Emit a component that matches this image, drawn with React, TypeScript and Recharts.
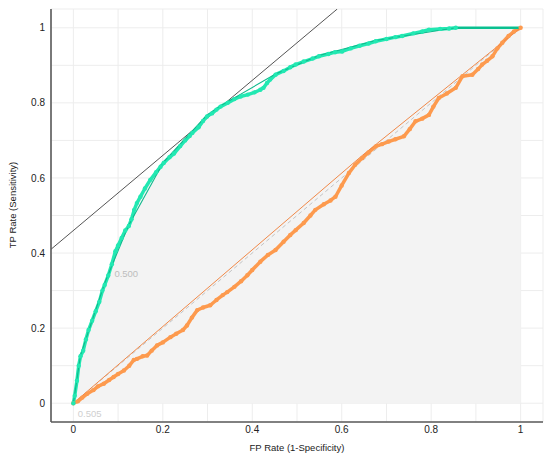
import React from 'react';
import {
  ComposedChart,
  Line,
  Area,
  XAxis,
  YAxis,
  CartesianGrid,
  ReferenceDot,
} from 'recharts';

// ROC curve of the better model (FP rate, TP rate)
const greenFpr = [
  0, 0.003, 0.008, 0.012, 0.016, 0.022, 0.028, 0.034, 0.042, 0.05, 0.058, 0.065, 0.07, 0.078, 0.086,
  0.094, 0.1, 0.108, 0.116, 0.124, 0.13, 0.136, 0.142, 0.15, 0.16, 0.172, 0.185, 0.195, 0.202, 0.215,
  0.225, 0.239, 0.25, 0.26, 0.266, 0.28, 0.29, 0.299, 0.31, 0.32, 0.329, 0.345, 0.36, 0.374, 0.39,
  0.405, 0.418, 0.425, 0.433, 0.44, 0.452, 0.47, 0.485, 0.497, 0.515, 0.535, 0.549, 0.57, 0.585, 0.601,
  0.62, 0.64, 0.66, 0.676, 0.7, 0.72, 0.735, 0.76, 0.78, 0.795, 0.82, 0.84, 0.855, 1,
];
const greenTpr = [
  0, 0.02, 0.06, 0.1, 0.125, 0.14, 0.17, 0.195, 0.22, 0.245, 0.27, 0.3, 0.315, 0.34, 0.37,
  0.405, 0.42, 0.44, 0.46, 0.472, 0.49, 0.515, 0.533, 0.55, 0.572, 0.595, 0.615, 0.63, 0.64, 0.655,
  0.665, 0.685, 0.7, 0.712, 0.72, 0.735, 0.752, 0.764, 0.772, 0.782, 0.79, 0.8, 0.81, 0.817, 0.822,
  0.828, 0.835, 0.84, 0.853, 0.862, 0.875, 0.885, 0.895, 0.902, 0.91, 0.918, 0.924, 0.93, 0.935, 0.937,
  0.945, 0.952, 0.958, 0.964, 0.97, 0.975, 0.978, 0.985, 0.99, 0.995, 0.997, 0.998, 1, 1,
];

// convex hull of the green curve
const greenHullFpr = [0, 0.016, 0.07, 0.124, 0.202, 0.299, 0.329, 0.452, 0.549, 0.676, 0.855, 1];
const greenHullTpr = [0, 0.128, 0.32, 0.475, 0.643, 0.768, 0.792, 0.877, 0.926, 0.966, 1, 1];

// ROC curve of the weaker model
const orangeFpr = [
  0, 0.01, 0.02, 0.031, 0.045, 0.055, 0.068, 0.08, 0.09, 0.1, 0.113, 0.125, 0.135, 0.142, 0.155,
  0.165, 0.175, 0.187, 0.2, 0.217, 0.23, 0.245, 0.254, 0.265, 0.277, 0.29, 0.306, 0.32, 0.334, 0.344,
  0.36, 0.375, 0.389, 0.4, 0.418, 0.435, 0.452, 0.47, 0.485, 0.497, 0.515, 0.53, 0.541, 0.56, 0.575,
  0.586, 0.6, 0.616, 0.63, 0.646, 0.66, 0.676, 0.69, 0.705, 0.72, 0.739, 0.752, 0.765, 0.78, 0.795,
  0.805, 0.817, 0.835, 0.855, 0.87, 0.892, 0.905, 0.914, 0.925, 0.937, 0.948, 0.959, 0.973, 0.985, 1,
];
const orangeTpr = [
  0, 0.005, 0.015, 0.025, 0.035, 0.045, 0.052, 0.062, 0.07, 0.078, 0.087, 0.1, 0.115, 0.118, 0.125,
  0.127, 0.14, 0.154, 0.162, 0.176, 0.185, 0.195, 0.207, 0.228, 0.248, 0.255, 0.261, 0.275, 0.288, 0.296,
  0.31, 0.325, 0.341, 0.355, 0.377, 0.395, 0.408, 0.43, 0.448, 0.461, 0.48, 0.5, 0.515, 0.53, 0.54,
  0.55, 0.58, 0.613, 0.635, 0.653, 0.668, 0.684, 0.69, 0.697, 0.703, 0.711, 0.73, 0.751, 0.758, 0.768,
  0.79, 0.813, 0.825, 0.84, 0.871, 0.875, 0.89, 0.902, 0.912, 0.924, 0.945, 0.96, 0.978, 0.99, 1,
];

const orangeHullFpr = [0, 0.646, 1];
const orangeHullTpr = [0, 0.66, 1];

const diagonalFpr = [0, 1];
const diagonalTpr = [0, 1];

// iso-performance line (slope 1)
const isoFpr = [-0.05, 0.59];
const isoTpr = [0.41, 1.05];

const gridTicks = [0, 0.1, 0.2, 0.3, 0.4, 0.5, 0.6, 0.7, 0.8, 0.9, 1];

const zip = (xs: number[], ys: number[]) => xs.map((x, i) => ({ x, y: ys[i] }));

const greenData = zip(greenFpr, greenTpr);
const greenCurve = greenData.slice(0, greenData.length - 1);
const greenTail = greenData.slice(greenData.length - 2);
const greenHull = zip(greenHullFpr, greenHullTpr);
const orangeData = zip(orangeFpr, orangeTpr);
const orangeHull = zip(orangeHullFpr, orangeHullTpr);
const diagonal = zip(diagonalFpr, diagonalTpr);
const isoLine = zip(isoFpr, isoTpr);

const FONT = "'Liberation Sans', Arial, sans-serif";
const GREEN = '#22e8b2';
const ORANGE = '#fd9a4e';

const fmtTick = (v: number) => {
  const k = Math.round(v * 10);
  if (k % 2 !== 0) return '';
  if (k === 0) return '0';
  if (k === 10) return '1';
  return String(k / 10);
};

const App = () => {
  return (
    <div style={{ position: 'absolute', left: 0, top: 0, width: 550, height: 458, background: '#fff' }}>
      <ComposedChart
        width={550}
        height={458}
        margin={{ top: 9, right: 7, left: 0, bottom: 0 }}
        style={{ fontFamily: FONT }}
      >
        <CartesianGrid stroke="#ededed" strokeWidth={1} />
        <XAxis
          dataKey="x"
          type="number"
          domain={[-0.05, 1.05]}
          ticks={gridTicks}
          tickFormatter={fmtTick}
          allowDataOverflow
          height={36}
          tickLine={false}
          tickSize={0}
          tickMargin={4}
          axisLine={{ stroke: '#5a5a5a', strokeWidth: 1.6 }}
          tick={{ fill: '#222', fontSize: 10, fontFamily: FONT }}
          label={{
            value: 'FP Rate (1-Specificity)',
            position: 'insideBottom',
            offset: 7,
            fill: '#222',
            fontSize: 9.5,
            fontFamily: FONT,
          }}
        />
        <YAxis
          dataKey="y"
          type="number"
          domain={[-0.05, 1.05]}
          ticks={gridTicks}
          tickFormatter={fmtTick}
          allowDataOverflow
          width={51}
          tickLine={false}
          tickSize={0}
          tickMargin={6}
          axisLine={{ stroke: '#5a5a5a', strokeWidth: 1.6 }}
          tick={{ fill: '#222', fontSize: 10, fontFamily: FONT }}
          label={{
            content: () => (
              <text
                x={16}
                y={205}
                transform="rotate(-90 16 205)"
                textAnchor="middle"
                fill="#222"
                fontSize={9.5}
                fontFamily={FONT}
              >
                TP Rate (Sensitivity)
              </text>
            ),
          }}
        />
        <Area
          data={greenData}
          dataKey="y"
          type="linear"
          fill="#f3f3f3"
          fillOpacity={1}
          stroke="none"
          baseValue={0}
          isAnimationActive={false}
          activeDot={false}
        />
        <Line
          data={diagonal}
          dataKey="y"
          type="linear"
          stroke="#c4c4c4"
          strokeWidth={1}
          strokeDasharray="4 3"
          dot={false}
          isAnimationActive={false}
        />
        <Line
          data={isoLine}
          dataKey="y"
          type="linear"
          stroke="#555"
          strokeWidth={1}
          dot={false}
          isAnimationActive={false}
        />
        <Line
          data={orangeData}
          dataKey="y"
          type="linear"
          stroke={ORANGE}
          strokeWidth={3.5}
          strokeLinejoin="round"
          dot={{ r: 2.2, fill: ORANGE, stroke: 'none' }}
          isAnimationActive={false}
        />
        <Line
          data={orangeHull}
          dataKey="y"
          type="linear"
          stroke="#f08848"
          strokeWidth={1}
          dot={false}
          isAnimationActive={false}
        />
        <Line
          data={greenCurve}
          dataKey="y"
          type="linear"
          stroke={GREEN}
          strokeWidth={3.5}
          strokeLinejoin="round"
          dot={{ r: 2.2, fill: GREEN, stroke: 'none' }}
          isAnimationActive={false}
        />
        <Line
          data={greenTail}
          dataKey="y"
          type="linear"
          stroke="#05c794"
          strokeWidth={2.5}
          dot={false}
          isAnimationActive={false}
        />
        <Line
          data={greenHull}
          dataKey="y"
          type="linear"
          stroke="#10b98c"
          strokeWidth={1.1}
          dot={false}
          isAnimationActive={false}
        />
        <ReferenceDot
          x={0.085}
          y={0.346}
          r={0}
          fill="none"
          stroke="none"
          label={{ value: '0.500', position: 'right', offset: 3, fill: '#bdbdbd', fontSize: 9.5, fontFamily: FONT }}
        />
        <ReferenceDot
          x={0.003}
          y={-0.028}
          r={0}
          fill="none"
          stroke="none"
          label={{ value: '0.505', position: 'right', offset: 3, fill: '#cfcfcf', fontSize: 9.5, fontFamily: FONT }}
        />
      </ComposedChart>
    </div>
  );
};

export default App;
